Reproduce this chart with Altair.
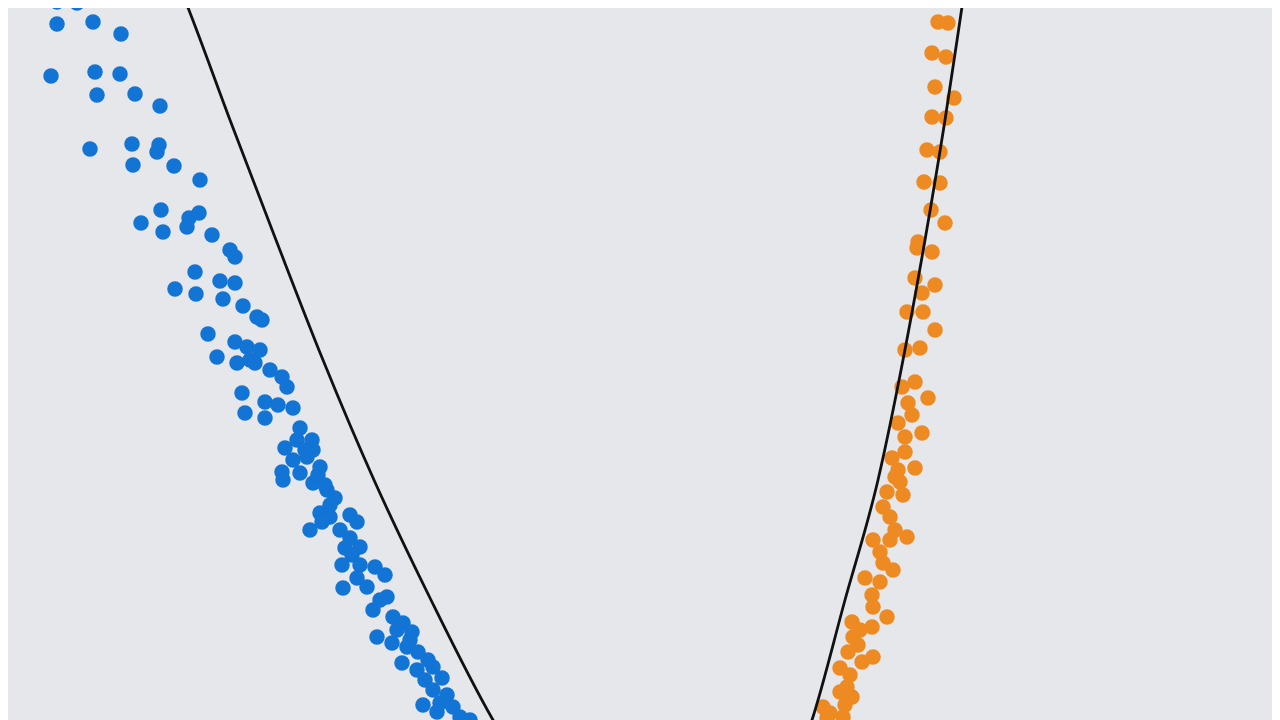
import altair as alt
import pandas as pd

# Values (x to the right, y upward; arbitrary units)
blue_x = [0.57, 0.77, 0.57, 0.93, 1.21, 0.51, 0.95, 1.20, 0.97, 1.35, 1.60, 0.90, 1.32, 1.59, 1.57,
          1.33, 1.74, 2.00, 1.61, 1.41, 1.63, 1.89, 1.99, 1.87, 2.12, 2.30, 2.35, 1.95, 1.75, 1.96,
          2.20, 2.35, 2.23, 2.43, 2.57, 2.62, 2.08, 2.35, 2.47, 2.60, 2.17, 2.37, 2.50, 2.55, 2.70,
          2.82, 2.87, 2.42, 2.65, 2.78, 2.93, 2.45, 2.65, 3.00, 3.12, 3.13, 2.85, 2.93, 3.07, 3.20,
          2.82, 3.00, 2.83, 3.13, 3.27, 3.35, 3.20, 3.10, 3.30, 3.50, 3.57, 3.40, 3.50, 3.60, 3.42,
          3.60, 3.75, 3.85, 3.57, 3.43, 3.67, 3.87, 3.73, 3.93, 4.03, 4.12, 3.77, 3.92, 4.07, 4.18,
          4.02, 4.17, 4.33, 4.42, 4.25, 4.33, 4.23, 4.40, 4.53, 4.60, 4.70,
          2.97, 3.05, 3.18, 3.25, 3.30, 3.22, 3.45, 3.52, 3.80, 3.97, 4.10, 4.28, 4.47, 4.37]
blue_y = [7.18, 7.17, 6.96, 6.98, 6.86, 6.44, 6.48, 6.46, 6.25, 6.26, 6.14, 5.71, 5.76, 5.75, 5.68,
          5.55, 5.54, 5.40, 5.10, 4.97, 4.88, 5.02, 5.07, 4.93, 4.85, 4.70, 4.63, 4.48, 4.31, 4.26,
          4.39, 4.37, 4.21, 4.14, 4.03, 4.00, 3.86, 3.78, 3.73, 3.70, 3.63, 3.57, 3.60, 3.57, 3.50,
          3.43, 3.33, 3.27, 3.18, 3.15, 3.12, 3.07, 3.02, 2.92, 2.80, 2.70, 2.72, 2.60, 2.63, 2.53,
          2.48, 2.47, 2.40, 2.37, 2.30, 2.22, 2.07, 1.90, 2.03, 2.05, 1.98, 1.90, 1.82, 1.73, 1.55,
          1.55, 1.53, 1.45, 1.42, 1.32, 1.33, 1.23, 1.10, 1.03, 0.97, 0.88, 0.83, 0.77, 0.73, 0.68,
          0.57, 0.50, 0.53, 0.42, 0.40, 0.30, 0.15, 0.17, 0.13, 0.03, 0.00,
          2.80, 2.70, 2.45, 2.35, 2.15, 1.98, 1.72, 1.65, 1.20, 0.90, 0.80, 0.60, 0.25, 0.08]

orange_x = [9.40, 9.38, 9.48, 9.32, 9.46, 9.35, 9.54, 9.32, 9.46, 9.27, 9.40, 9.24, 9.40, 9.31, 9.45,
            9.18, 9.17, 9.32, 9.15, 9.35, 9.22, 9.07, 9.23, 9.35, 9.05, 9.20, 9.15, 9.02, 9.28, 9.08,
            9.12, 8.98, 9.22, 9.05, 9.05, 8.92, 9.15, 8.98, 8.95, 9.00, 8.87, 9.03, 8.83, 8.90, 8.95,
            9.07, 8.73, 8.90, 8.80, 8.83, 8.93, 8.65, 8.80, 8.72, 8.73, 8.87, 8.52, 8.60, 8.72, 8.58,
            8.73, 8.62, 8.40, 8.50, 8.47, 8.52, 8.23, 8.30, 8.43, 8.27, 8.53, 8.48, 8.40, 8.45]
orange_y = [7.20, 6.98, 6.97, 6.67, 6.63, 6.33, 6.22, 6.03, 6.02, 5.70, 5.68, 5.38, 5.37, 5.10, 4.97,
            4.78, 4.72, 4.68, 4.42, 4.35, 4.27, 4.08, 4.08, 3.90, 3.70, 3.72, 3.38, 3.33, 3.22, 3.17,
            3.05, 2.97, 2.87, 2.83, 2.68, 2.62, 2.52, 2.50, 2.43, 2.38, 2.28, 2.25, 2.13, 2.03, 1.90,
            1.83, 1.80, 1.80, 1.68, 1.57, 1.50, 1.42, 1.38, 1.25, 1.13, 1.03, 0.98, 0.90, 0.93, 0.75,
            0.63, 0.58, 0.52, 0.45, 0.33, 0.23, 0.13, 0.07, 0.03, 0.02, 0.83, 0.68, 0.28, 0.15]

curve_x = [1.60, 1.85, 2.30, 2.76, 3.23, 3.74, 4.31, 4.93, 5.30, 5.75, 6.20, 6.70, 7.20,
           7.62, 7.90, 8.12, 8.45, 8.78, 9.03, 9.25, 9.45, 9.63, 9.72]
curve_y = [7.80, 7.20, 6.00, 4.80, 3.60, 2.40, 1.20, 0.00, -0.60, -1.20, -1.65, -1.75, -1.65,
           -1.20, -0.60, 0.00, 1.20, 2.40, 3.60, 4.80, 6.00, 7.20, 7.80]

points = pd.DataFrame({
    "x": blue_x + orange_x,
    "y": blue_y + orange_y,
    "group": ["blue"] * len(blue_x) + ["orange"] * len(orange_x),
})
curve = pd.DataFrame({"x": curve_x, "y": curve_y})

xs = alt.Scale(domain=[0.08, 12.72], nice=False, zero=False)
ys = alt.Scale(domain=[0.0, 7.12], nice=False, zero=False)

dots = alt.Chart(points).mark_circle(size=240, opacity=1).encode(
    x=alt.X("x:Q", scale=xs, axis=None),
    y=alt.Y("y:Q", scale=ys, axis=None),
    color=alt.Color("group:N", scale=alt.Scale(domain=["blue", "orange"],
                                               range=["#1274d4", "#ee8a22"]), legend=None),
)

line = alt.Chart(curve).mark_line(color="#111111", strokeWidth=2.8, interpolate="monotone").encode(
    x=alt.X("x:Q", scale=xs, axis=None),
    y=alt.Y("y:Q", scale=ys, axis=None),
)

chart = alt.layer(dots, line).properties(
    width=1264, height=712, padding=0, background="#e6e7ea",
    autosize=alt.AutoSizeParams(type="none"),
).configure_view(stroke=None, fill="#e6e7ea")

chart.save("out.html", embed_options={"renderer": "svg", "actions": False})
